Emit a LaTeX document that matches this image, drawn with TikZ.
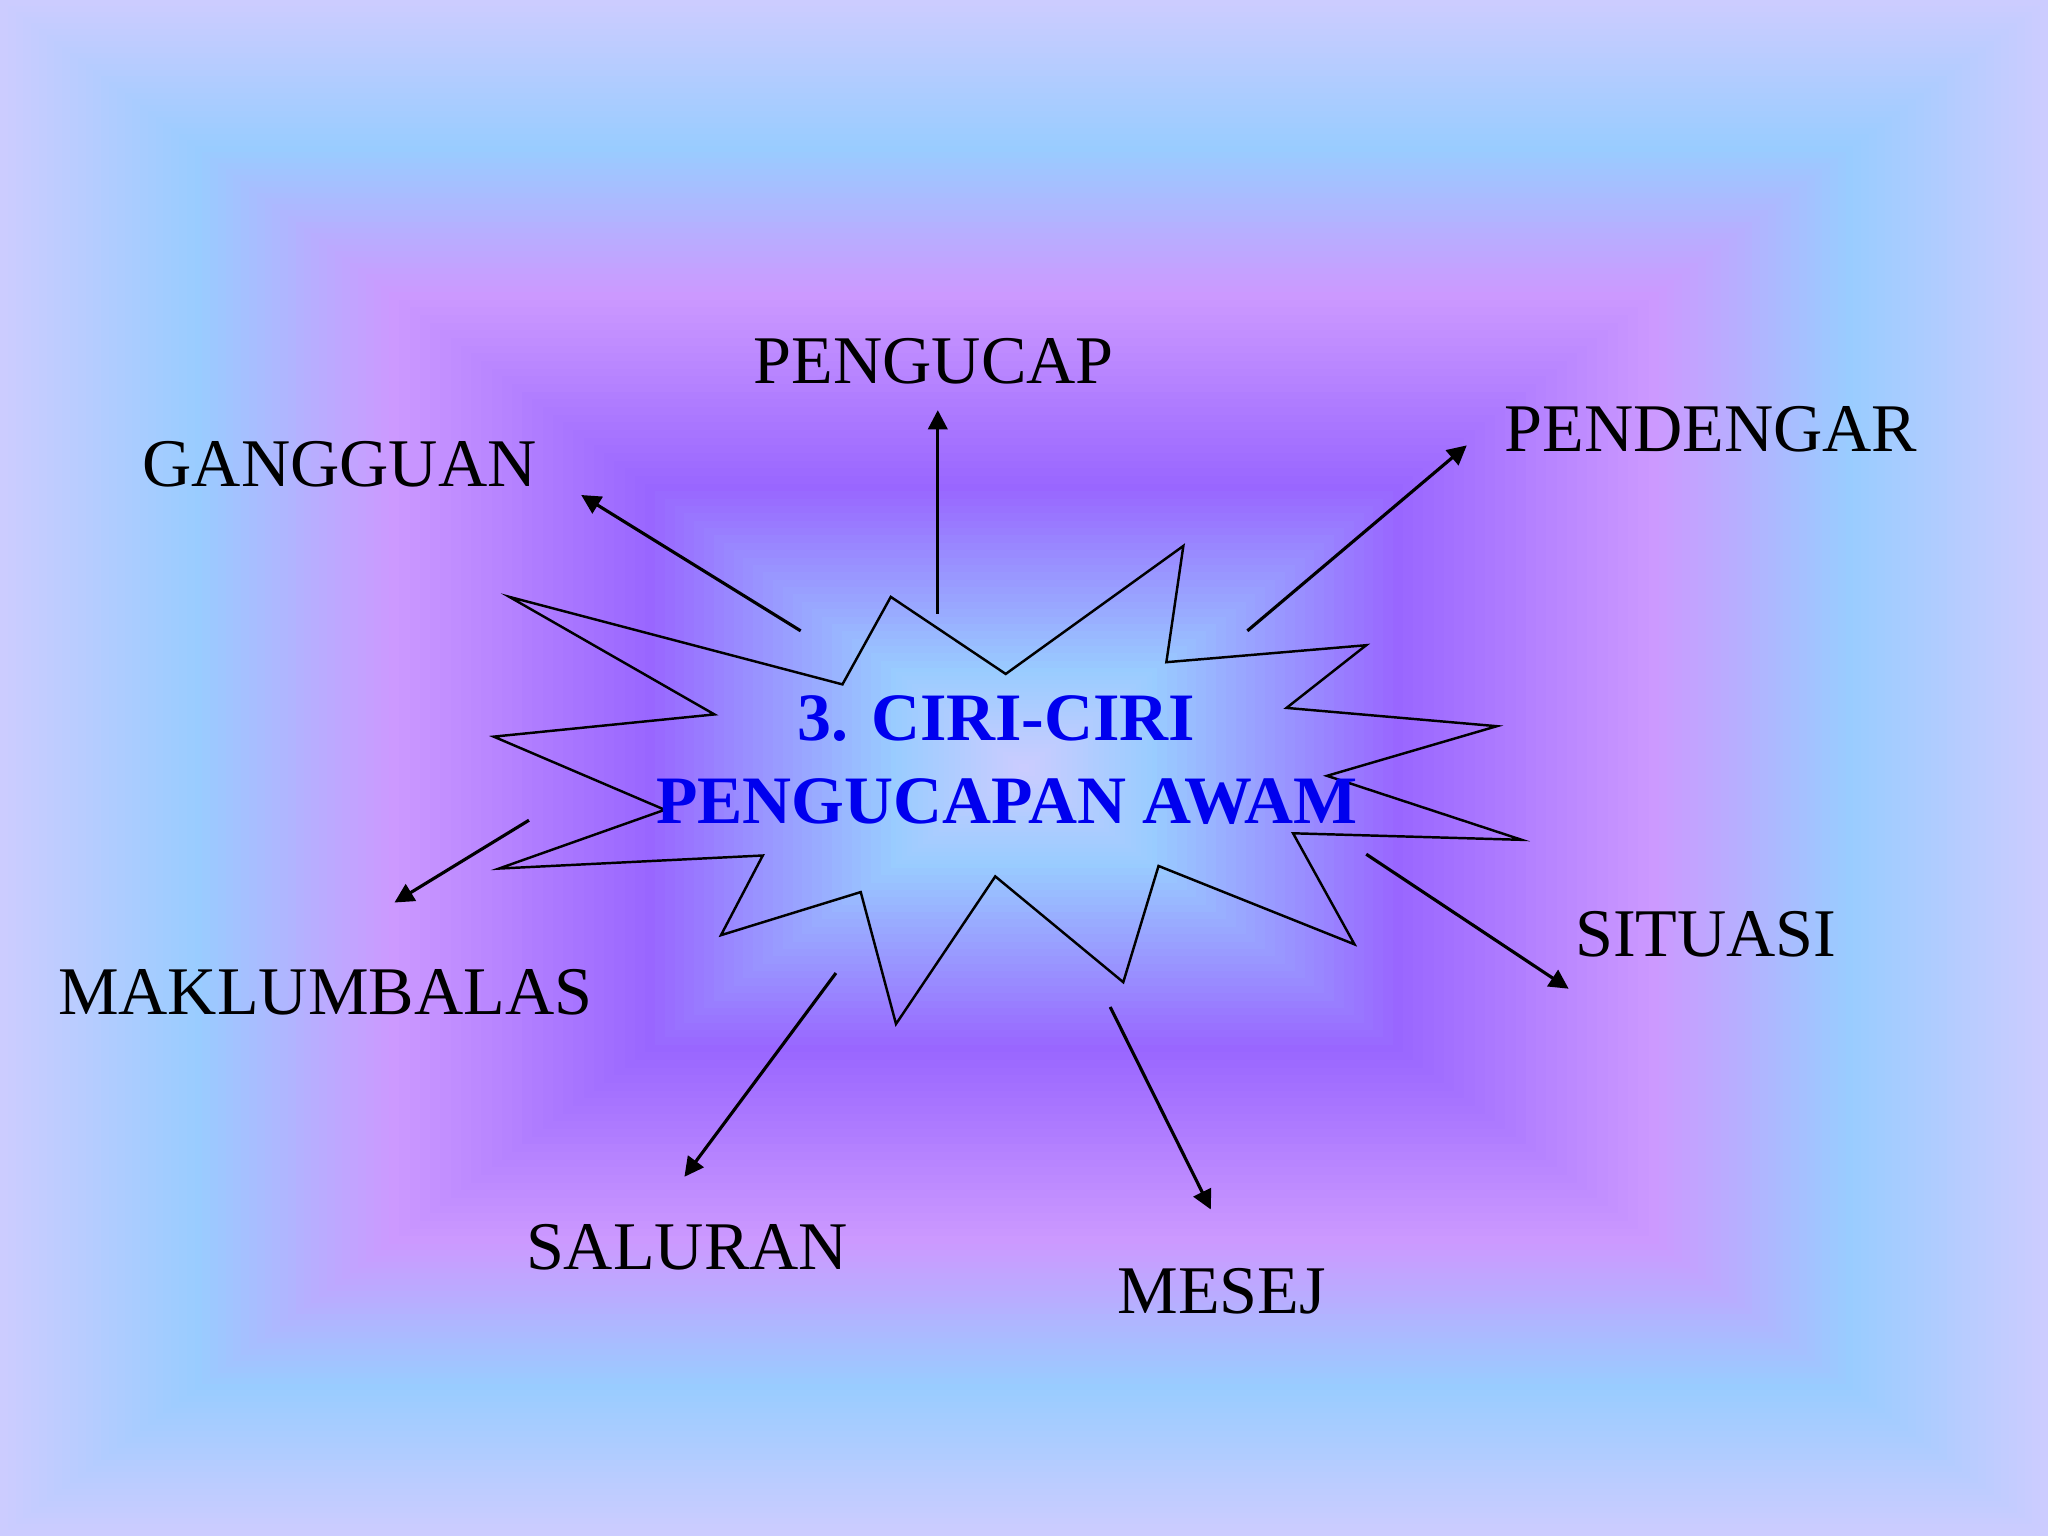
\documentclass[tikz,border=0pt]{standalone}
\usepackage{fontspec}
\setmainfont{Liberation Serif}
\usepackage{xcolor}
\usepackage{tikz}
\usetikzlibrary{arrows.meta}
\definecolor{bgedge}{RGB}{204, 204, 255}
\definecolor{bgblue}{RGB}{153, 204, 255}
\definecolor{bgpink}{RGB}{204, 153, 255}
\definecolor{bgviolet}{RGB}{153, 102, 255}
\definecolor{titleblue}{RGB}{0, 0, 238}
\tikzset{
  lbl/.style={font=\fontsize{19.4}{23}\selectfont, inner sep=0pt},
  ttl/.style={font=\fontsize{19.3}{23}\selectfont\bfseries, text=titleblue, inner sep=0pt},
  arr/.style={-{Triangle[length=5.5pt,width=5.5pt]}, line width=0.9pt},
}

\begin{document}
\begin{tikzpicture}[x=1.306cm, y=1.306cm]
% Background
\foreach \ta/\tb/\ca/\cb in {0/0.19/bgedge/bgblue, 0.19/0.38/bgblue/bgpink, 0.38/0.63/bgpink/bgviolet, 0.63/0.87/bgviolet/bgblue, 0.87/1/bgblue/bgedge} {
    \foreach \k in {0,...,24} {
        \pgfmathsetmacro\tr{\ta+(\tb-\ta)*\k/25}
        \pgfmathtruncatemacro\pc{4*\k}
        \colorlet{bgtmp}{\cb!\pc!\ca}
        \fill[bgtmp] (\tr*7.84,\tr*5.88) rectangle ({15.68-\tr*7.84},{11.76-\tr*5.88});
    }
}

% Star
\draw[line width=0.7pt] (3.90,7.19) -- (6.45,6.52) -- (6.82,7.19) -- (7.70,6.60)
    -- (9.06,7.58) -- (8.93,6.69) -- (10.46,6.82) -- (9.85,6.34) -- (11.46,6.20)
    -- (10.16,5.82) -- (11.65,5.33) -- (9.90,5.38) -- (10.37,4.53) -- (8.87,5.13)
    -- (8.60,4.24) -- (7.62,5.05) -- (6.86,3.92) -- (6.59,4.93) -- (5.52,4.60)
    -- (5.84,5.21) -- (3.82,5.11) -- (5.09,5.56) -- (3.78,6.12) -- (5.47,6.29) -- cycle;

% Title
\node[ttl] (title1) at (7.63,6.255) {3. CIRI-CIRI};
\node[ttl] (title2) at (7.71,5.625) {PENGUCAPAN AWAM};

% Labels
\node[lbl] (pengucap) at (7.15,8.995) {PENGUCAP};
\node[lbl] (gangguan) at (2.60,8.205) {GANGGUAN};
\node[lbl] (pendengar) at (13.10,8.47) {PENDENGAR};
\node[lbl] (situasi) at (13.06,4.61) {SITUASI};
\node[lbl] (maklumbalas) at (2.49,4.165) {MAKLUMBALAS};
\node[lbl] (saluran) at (5.26,2.21) {SALURAN};
\node[lbl] (mesej) at (9.355,1.87) {MESEJ};

% Arrows
\coordinate (gangA) at (6.13,6.93);   \coordinate (gangB) at (4.45,7.97);
\coordinate (pengA) at (7.18,7.06);   \coordinate (pengB) at (7.18,8.62);
\coordinate (pendA) at (9.55,6.93);   \coordinate (pendB) at (11.23,8.35);
\coordinate (situA) at (10.46,5.22);  \coordinate (situB) at (12.01,4.19);
\coordinate (mesA) at (8.50,4.05);    \coordinate (mesB) at (9.27,2.50);
\coordinate (salA) at (6.40,4.31);    \coordinate (salB) at (5.24,2.75);
\coordinate (makA) at (4.05,5.48);    \coordinate (makB) at (3.02,4.85);
\draw[arr] (gangA) -- (gangB);
\draw[arr] (pengA) -- (pengB);
\draw[arr] (pendA) -- (pendB);
\draw[arr] (situA) -- (situB);
\draw[arr] (mesA) -- (mesB);
\draw[arr] (salA) -- (salB);
\draw[arr] (makA) -- (makB);
\end{tikzpicture}
\end{document}
